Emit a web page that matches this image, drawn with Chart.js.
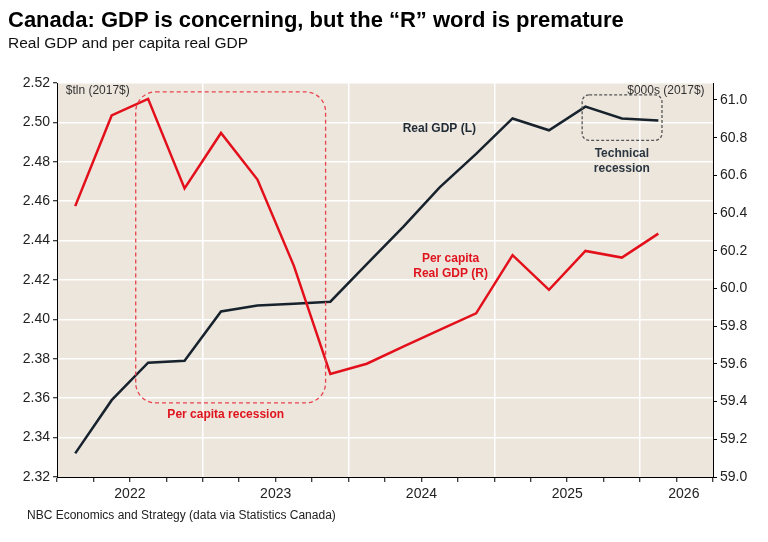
<!DOCTYPE html>
<html><head><meta charset="utf-8">
<script src="https://cdn.jsdelivr.net/npm/chart.js@4"></script>
<style>
html,body{margin:0;padding:0;background:#fff;width:768px;height:542px;overflow:hidden;font-family:"Liberation Sans",Arial,sans-serif;}
#wrap{position:relative;width:768px;height:542px;}
canvas{position:absolute;left:0;top:0;}
.t{position:absolute;white-space:nowrap;}
#title{left:8px;top:8px;font-size:22px;font-weight:bold;line-height:24px;color:#000;}
#sub{left:8px;top:35px;font-size:15.5px;line-height:16px;color:#111;}
#foot{left:27px;top:508px;font-size:12px;line-height:14px;color:#222;}
</style></head><body>
<div id="wrap">
<canvas id="c" width="768" height="542"></canvas>
<div class="t" id="title">Canada: GDP is concerning, but the “R” word is premature</div>
<div class="t" id="sub">Real GDP and per capita real GDP</div>
<div class="t" id="foot">NBC Economics and Strategy (data via Statistics Canada)</div>
</div>
<script>
const quarters = ['2022Q1','2022Q2','2022Q3','2022Q4','2023Q1','2023Q2','2023Q3','2023Q4',
                  '2024Q1','2024Q2','2024Q3','2024Q4','2025Q1','2025Q2','2025Q3','2025Q4','2026Q1'];
const realGDP = [2.332, 2.359, 2.378, 2.379, 2.404, 2.407, 2.408, 2.409,
                 2.428, 2.447, 2.467, 2.484, 2.502, 2.496, 2.508, 2.502, 2.501];
const perCapitaGDP = [60.437, 60.918, 61.006, 60.531, 60.825, 60.578, 60.120, 59.546,
                      59.601, 59.692, 59.780, 59.868, 60.177, 59.993, 60.199, 60.164, 60.291];
const yearLabels = ['2022','2023','2024','2025','2026'];
const leftTicks = [2.32, 2.34, 2.36, 2.38, 2.40, 2.42, 2.44, 2.46, 2.48, 2.50, 2.52];
const rightTicks = [59.0, 59.2, 59.4, 59.6, 59.8, 60.0, 60.2, 60.4, 60.6, 60.8, 61.0];

const FONT = '"Liberation Sans", Arial, sans-serif';
const X_MAX = 18;          // axis spans 2022Q1 .. 2026Q2 (in quarters)
const LEFT_MIN = 2.32, LEFT_MAX = 2.52, RIGHT_MIN = 59.0, RIGHT_MAX = 61.09;

const toPoints = arr => arr.map((v, i) => ({x: i + 0.5, y: v}));
const yearPos = yearLabels.map((yr, i) => {
  const s = i * 4, e = Math.min(s + 4, X_MAX);
  return (s + e) / 2 + (e - s < 4 ? 0.2 : 0);
});
const xTickVals = Array.from(new Set([...Array.from({length: X_MAX + 1}, (_, i) => i), ...yearPos])).sort((a, b) => a - b);

const annotBoxes = [
  {x0: 2.16, x1: 7.37, y0: 2.3576, y1: 2.5155, color: '#e8424c', dash: [4, 3], r: 20},
  {x0: 14.41, x1: 16.6, y0: 2.4909, y1: 2.514, color: '#555555', dash: [3, 2], r: 7}
];
const annotTexts = [
  {lines: ['Real GDP (L)'], x: 10.49, y: 2.4967, color: '#1f2a35', bold: true, align: 'center'},
  {lines: ['Per capita', 'Real GDP (R)'], x: 10.8, y: 2.4307, color: '#e0141e', bold: true, align: 'center'},
  {lines: ['Technical', 'recession'], x: 15.5, y: 2.484, color: '#2b3640', bold: true, align: 'center'},
  {lines: ['Per capita recession'], x: 4.63, y: 2.3515, color: '#e0141e', bold: true, align: 'center'},
  {lines: ['$tln (2017$)'], x: 0.24, y: 2.516, color: '#333', bold: false, align: 'left'},
  {lines: ['$000s (2017$)'], x: 17.77, y: 2.516, color: '#333', bold: false, align: 'right'}
];

const bgPlugin = {
  id: 'bg',
  beforeDraw(chart) {
    const {ctx, chartArea: a} = chart;
    ctx.save();
    ctx.fillStyle = '#ece6dd';
    ctx.fillRect(a.left, a.top, a.right - a.left, a.bottom - a.top);
    ctx.restore();
  }
};

function rr(ctx, x, y, w, h, r) {
  ctx.beginPath();
  ctx.moveTo(x + r, y);
  ctx.lineTo(x + w - r, y);
  ctx.arcTo(x + w, y, x + w, y + r, r);
  ctx.lineTo(x + w, y + h - r);
  ctx.arcTo(x + w, y + h, x + w - r, y + h, r);
  ctx.lineTo(x + r, y + h);
  ctx.arcTo(x, y + h, x, y + h - r, r);
  ctx.lineTo(x, y + r);
  ctx.arcTo(x, y, x + r, y, r);
  ctx.closePath();
}

const annotPlugin = {
  id: 'annot',
  afterDatasetsDraw(chart) {
    const {ctx} = chart;
    const xs = chart.scales.x, ys = chart.scales.y;
    ctx.save();
    annotBoxes.forEach(b => {
      const x0 = xs.getPixelForValue(b.x0), x1 = xs.getPixelForValue(b.x1);
      const y0 = ys.getPixelForValue(b.y1), y1 = ys.getPixelForValue(b.y0);
      ctx.setLineDash(b.dash);
      ctx.strokeStyle = b.color;
      ctx.lineWidth = 1.3;
      rr(ctx, x0, y0, x1 - x0, y1 - y0, b.r);
      ctx.stroke();
    });
    ctx.setLineDash([]);
    annotTexts.forEach(t => {
      ctx.font = (t.bold ? 'bold ' : '') + '12px ' + FONT;
      ctx.fillStyle = t.color;
      ctx.textAlign = t.align;
      ctx.textBaseline = 'middle';
      const px = xs.getPixelForValue(t.x), py = ys.getPixelForValue(t.y);
      t.lines.forEach((ln, i) => ctx.fillText(ln, px, py + i * 15));
    });
    ctx.restore();
  }
};

new Chart(document.getElementById('c'), {
  type: 'line',
  data: {
    labels: quarters,
    datasets: [
      {label: 'Per capita Real GDP (R)', data: toPoints(perCapitaGDP), yAxisID: 'y1',
       borderColor: '#e3101c', borderWidth: 2.5, pointRadius: 0, tension: 0, fill: false},
      {label: 'Real GDP (L)', data: toPoints(realGDP), yAxisID: 'y',
       borderColor: '#17222d', borderWidth: 2.5, pointRadius: 0, tension: 0, fill: false}
    ]
  },
  options: {
    responsive: false,
    animation: false,
    devicePixelRatio: 1,
    layout: {padding: {top: 83, left: 0, right: 0, bottom: 0}},
    plugins: {legend: {display: false}, tooltip: {enabled: false}, title: {display: false}},
    scales: {
      x: {
        type: 'linear', min: 0, max: X_MAX,
        afterBuildTicks: s => { s.ticks = xTickVals.map(v => ({value: v})); },
        afterFit: s => { s.height = 65; },
        ticks: {
          autoSkip: false, maxRotation: 0, minRotation: 0, padding: 4,
          color: '#222', font: {size: 14, family: FONT},
          callback: v => { const i = yearPos.findIndex(p => Math.abs(p - v) < 1e-6); return i >= 0 ? yearLabels[i] : ''; }
        },
        grid: {
          lineWidth: 1.5,
          color: c => { const v = c.tick ? c.tick.value : -1; return (Number.isInteger(v) && v % 4 === 0 && v > 0 && v < X_MAX) ? '#ffffff' : 'rgba(0,0,0,0)'; },
          tickColor: c => (c.tick && Number.isInteger(c.tick.value)) ? '#000' : 'rgba(0,0,0,0)',
          tickLength: 5, tickWidth: 1
        },
        border: {display: true, color: '#000', width: 1}
      },
      y: {
        type: 'linear', position: 'left', min: LEFT_MIN, max: LEFT_MAX,
        afterBuildTicks: s => { s.ticks = leftTicks.map(v => ({value: v})); },
        afterFit: s => { s.width = 57; },
        ticks: {color: '#222', font: {size: 14, family: FONT}, padding: 3, callback: v => Number(v).toFixed(2)},
        grid: {
          lineWidth: 1.5,
          color: c => (c.tick && c.tick.value > LEFT_MIN + 1e-6) ? '#ffffff' : 'rgba(0,0,0,0)',
          tickColor: '#000', tickLength: 4, tickWidth: 1
        },
        border: {display: true, color: '#000', width: 1}
      },
      y1: {
        type: 'linear', position: 'right', min: RIGHT_MIN, max: RIGHT_MAX,
        afterBuildTicks: s => { s.ticks = rightTicks.map(v => ({value: v})); },
        afterFit: s => { s.width = 55; },
        ticks: {color: '#222', font: {size: 14, family: FONT}, padding: 3, callback: v => Number(v).toFixed(1)},
        grid: {drawOnChartArea: false, tickColor: '#000', tickLength: 4, tickWidth: 1},
        border: {display: true, color: '#000', width: 1}
      }
    }
  },
  plugins: [bgPlugin, annotPlugin]
});
</script>
</body></html>
